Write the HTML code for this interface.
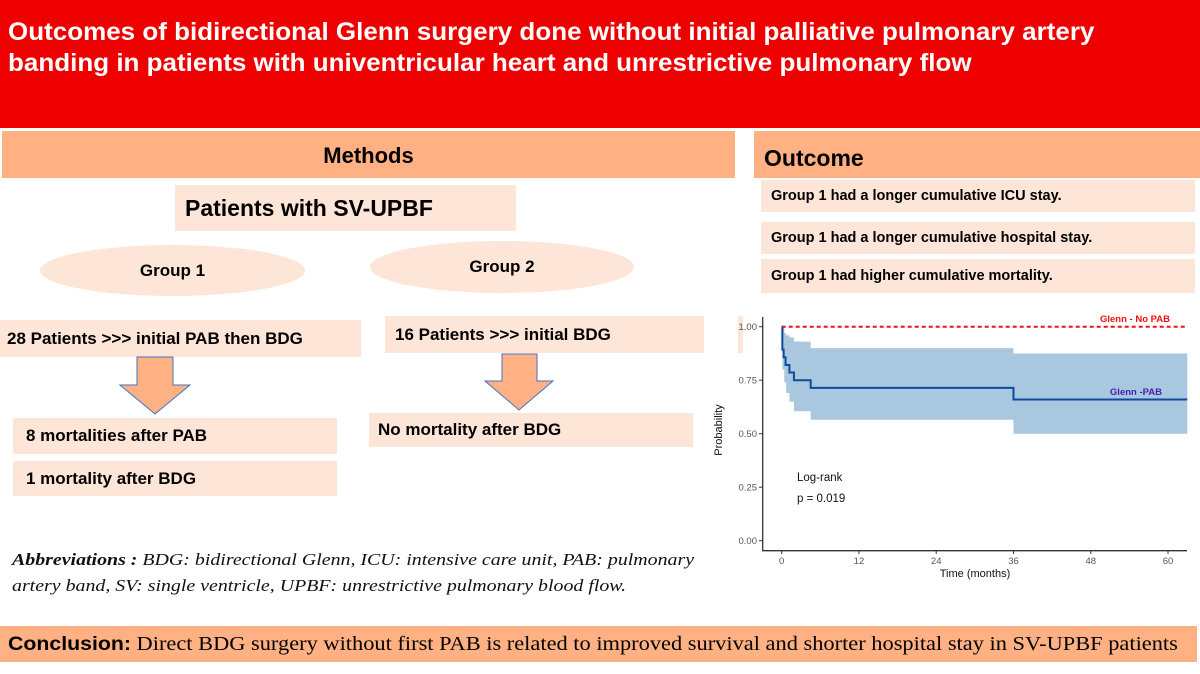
<!DOCTYPE html>
<html><head><meta charset="utf-8"><style>
body{margin:0;width:1200px;height:674px;position:relative;background:#fff;overflow:hidden;font-family:"Liberation Sans",sans-serif}
.a{position:absolute;box-sizing:border-box}
.hdr{background:#FFB183;font-weight:bold;color:#000}
.lt{background:#FDE6D8;font-weight:bold;color:#000;white-space:nowrap;display:flex;align-items:center}
.el{background:#FDE6D8;border-radius:50%;display:flex;align-items:center;justify-content:center;font-weight:bold;font-size:17px}
</style></head><body>
<div class="a" style="left:0;top:0;width:1200px;height:128px;background:#EE0000;color:#fff;font-weight:bold;font-size:25px;line-height:31px;padding:17px 0 0 8px;white-space:nowrap"><span style="display:inline-block;transform:scaleX(1.04);transform-origin:left">Outcomes of bidirectional Glenn surgery done without initial palliative pulmonary artery<br>banding in patients with univentricular heart and unrestrictive pulmonary flow</span></div>
<div class="a hdr" style="left:2px;top:131px;width:733px;height:47px;font-size:22px;text-align:center;line-height:50px">Methods</div>
<div class="a lt" style="left:175px;top:185px;width:341px;height:46px;font-size:23px;padding-left:10px">Patients with SV-UPBF</div>
<div class="a el" style="left:40px;top:245px;width:265px;height:51px">Group 1</div>
<div class="a el" style="left:370px;top:241px;width:264px;height:52px">Group 2</div>
<div class="a lt" style="left:0;top:320px;width:361px;height:37px;font-size:17px;padding-left:7px">28 Patients &gt;&gt;&gt; initial PAB then BDG</div>
<div class="a lt" style="left:385px;top:316px;width:319px;height:37px;font-size:17px;padding-left:10px">16 Patients &gt;&gt;&gt; initial BDG</div>
<svg class="a" style="left:0;top:0" width="1200" height="674">
<polygon points="137,357 173,357 173,385 190,385 155,414 120,385 137,385" fill="#FFB183" stroke="#4472C4" stroke-width="1"/>
<polygon points="502,354 537,354 537,381 553,381 519,410 485,381 502,381" fill="#FFB183" stroke="#4472C4" stroke-width="1"/>
</svg>
<div class="a lt" style="left:13px;top:418px;width:324px;height:36px;font-size:17px;padding-left:13px">8 mortalities after PAB</div>
<div class="a lt" style="left:13px;top:461px;width:324px;height:35px;font-size:17px;padding-left:13px">1 mortality after BDG</div>
<div class="a lt" style="left:369px;top:413px;width:324px;height:34px;font-size:17px;padding-left:9px">No mortality after BDG</div>
<div class="a" style="left:12px;top:547px;font-family:'Liberation Serif',serif;font-style:italic;font-size:17px;line-height:26px;color:#111;white-space:nowrap;transform:scaleX(1.17);transform-origin:left"><b>Abbreviations :</b> BDG: bidirectional Glenn, ICU: intensive care unit, PAB: pulmonary<br>artery band, SV: single ventricle, UPBF: unrestrictive pulmonary blood flow.</div>
<div class="a hdr" style="left:754px;top:131px;width:446px;height:47px;font-size:23px;line-height:54px;padding-left:10px">Outcome</div>
<div class="a lt" style="left:761px;top:180px;width:434px;height:32px;font-size:14.5px;padding-left:10px">Group 1 had a longer cumulative ICU stay.</div>
<div class="a lt" style="left:761px;top:222px;width:434px;height:32px;font-size:14.5px;padding-left:10px">Group 1 had a longer cumulative hospital stay.</div>
<div class="a lt" style="left:761px;top:259px;width:434px;height:34px;font-size:14.5px;padding-left:10px">Group 1 had higher cumulative mortality.</div>
<div class="a" style="left:738px;top:316px;width:5px;height:37px;background:#FDE6D8"></div>
<svg class="a" id="km" style="left:0;top:0" width="1200" height="674"></svg>
<div class="a" style="left:0;top:626px;width:1197px;height:36px;background:#FFB183;line-height:36px;padding-left:8px;white-space:nowrap"><span style="display:inline-block;transform:scaleX(1.12);transform-origin:left"><b style="font-size:19px">Conclusion:</b><span style="font-family:'Liberation Serif',serif;font-size:20px"> Direct BDG surgery without first PAB is related to improved survival and shorter hospital stay in SV-UPBF patients</span></span></div>
<script>
const times=[0,0.1,0.3,0.6,1.2,1.9,4.5,36,63];
const surv=[1.0,0.893,0.857,0.821,0.786,0.75,0.714,0.66];
const stepT=[0,0.1,0.4,0.7,1.2,1.9,4.5,36,63];
const lower=[1.0,0.80,0.74,0.69,0.65,0.605,0.565,0.50];
const upper=[1.0,1.0,0.97,0.96,0.95,0.93,0.90,0.875];
const yTicks=[0,0.25,0.5,0.75,1.0];
const yLabels=["0.00","0.25","0.50","0.75","1.00"];
const xTicks=[0,12,24,36,48,60];
const svg=document.getElementById('km');const NS='http://www.w3.org/2000/svg';
const X=t=>781.7+t*(1168-781.7)/60, Y=p=>540.7-p*(540.7-326.7);
function mk(tag,at,txt){const e=document.createElementNS(NS,tag);for(const k in at)e.setAttribute(k,at[k]);if(txt!==undefined)e.textContent=txt;svg.appendChild(e);return e;}
let up='',lo='';
for(let i=0;i<stepT.length-1;i++){up+=`${X(stepT[i])},${Y(upper[i])} ${X(stepT[i+1])},${Y(upper[i])} `;}
for(let i=stepT.length-2;i>=0;i--){lo+=`${X(stepT[i+1])},${Y(lower[i])} ${X(stepT[i])},${Y(lower[i])} `;}
const band=mk('polygon',{points:up+lo,fill:'#A9C8E0'});


let d=`M${X(times[0])},${Y(surv[0])}`;
for(let i=1;i<surv.length;i++){d+=` H${X(times[i])} V${Y(surv[i])}`;}
d+=` H${X(times[times.length-1])}`;
const pab=mk('path',{d:d,fill:'none',stroke:'#0D4C9C','stroke-width':2});


const nopab=mk('line',{x1:X(0),x2:X(63),y1:Y(1),y2:Y(1),stroke:'#EE1111','stroke-width':2,'stroke-dasharray':'4,3'});


const ax=mk('path',{d:`M762.7,317 V550.7 H1187`,fill:'none',stroke:'#333','stroke-width':1.3});


yTicks.forEach((v,i)=>{mk('line',{x1:759,x2:762.7,y1:Y(v),y2:Y(v),stroke:'#333'});
const t=mk('text',{x:757,y:Y(v)+3.5,'text-anchor':'end','font-size':9.5,fill:'#555'},yLabels[i]);

});
xTicks.forEach(v=>{mk('line',{x1:X(v),x2:X(v),y1:550.7,y2:554,stroke:'#333'});
const t=mk('text',{x:X(v),y:564,'text-anchor':'middle','font-size':9.5,fill:'#555'},String(v));

});
const xt=mk('text',{x:975,y:577,'text-anchor':'middle','font-size':11,fill:'#111'},'Time (months)');


const yt=mk('text',{x:722,y:430,'text-anchor':'middle','font-size':11,fill:'#111',transform:'rotate(-90 722 430)'},'Probability');


const l1=mk('text',{x:1170,y:322,'text-anchor':'end','font-size':9.5,'font-weight':'bold',fill:'#EE1111'},'Glenn - No PAB');


const l2=mk('text',{x:1162,y:395,'text-anchor':'end','font-size':9.5,'font-weight':'bold',fill:'#4422AA'},'Glenn -PAB');


const lr=mk('text',{x:797,y:481,'font-size':11.5,fill:'#111'},'Log-rank');


const pv=mk('text',{x:797,y:502,'font-size':11.5,fill:'#111'},'p = 0.019');


</script>
</body></html>
